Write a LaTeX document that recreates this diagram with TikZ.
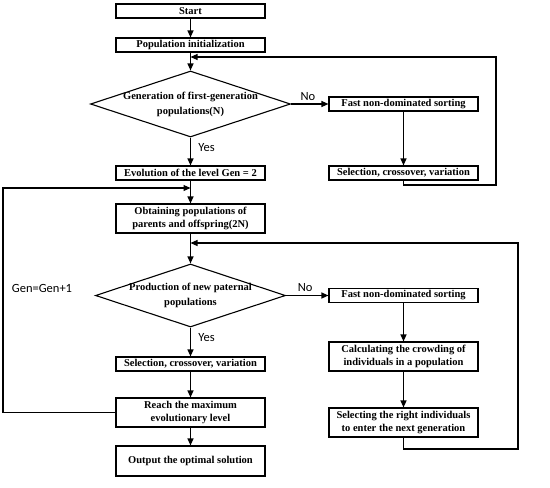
\documentclass[tikz,border=0pt]{standalone}
\usepackage{fontspec}
\setmainfont{Liberation Serif}
\newfontfamily\lblfont{Carlito}
\usetikzlibrary{shapes.geometric,arrows.meta}

\begin{document}
\begin{tikzpicture}[x=1pt,y=-1pt,line width=1.1pt,
   >={Triangle[length=7pt,width=6pt]},
   box/.style={draw,minimum width=149pt,minimum height=14pt,inner sep=1pt,
      align=center,font=\fontsize{10.5}{12.5}\selectfont\bfseries},
   cond/.style={draw,diamond,inner sep=0pt},
   lbl/.style={font=\fontsize{12.5}{14}\selectfont\lblfont}]
   \useasboundingbox (0,0) rectangle (550,488);
   % main column
   \node[box] (start) at (190.5,11) {Start};
   \node[box] (init) at (190.5,45) {Population initialization};
   \node[cond,minimum width=200pt,minimum height=66pt,
      label={[align=center,font=\fontsize{10.5}{15}\selectfont\bfseries]center:Generation of first-generation\\populations(N)}] (d1) at (190.5,104) {};
   \node[box] (evo) at (190.5,173) {Evolution of the level Gen = 2};
   \node[box,minimum height=29pt] (obt) at (190.5,218.5) {Obtaining populations of\\parents and offspring(2N)};
   \node[cond,minimum width=190pt,minimum height=63pt,
      label={[align=center,font=\fontsize{10.5}{15}\selectfont\bfseries]center:Production of new paternal\\populations}] (d2) at (190.5,295.5) {};
   \node[box] (sel2) at (190.5,364) {Selection, crossover, variation};
   \node[box,minimum height=29pt] (reach) at (190.5,412.5) {Reach the maximum\\evolutionary level};
   \node[box,minimum height=30pt] (out) at (190.5,461) {Output the optimal solution};
   % right column
   \node[box] (fast1) at (403.5,104) {Fast non-dominated sorting};
   \node[box] (sel1) at (403.5,173) {Selection, crossover, variation};
   \node[box] (fast2) at (403.5,295.5) {Fast non-dominated sorting};
   \node[box,minimum height=29pt] (calc) at (403.5,356.5) {Calculating the crowding of\\individuals in a population};
   \node[box,minimum height=29pt] (selg) at (403.5,422.5) {Selecting the right individuals\\to enter the next generation};
   \node[lbl] (gen) at (42,288) {Gen=Gen+1};
   % joints of the loops
   \coordinate (j1) at (190.5,57);
   \coordinate (j2) at (190.5,188);
   \coordinate (j3) at (190.5,243);
   % connectors
   \draw[->] (start) -- (init);
   \draw[->] (init) -- (d1);
   \draw[->] (d1.east) -- node[lbl,above,pos=0.45] {No} (fast1.west);
   \draw[->] (fast1) -- (sel1);
   \draw[->] (sel1.south) |- (496,185) |- (j1);
   \draw[->] (d1.south) -- node[lbl,right=4pt,pos=0.35] {Yes} (evo);
   \draw[->] (evo) -- (obt);
   \draw[->] (reach.west) -| (3,188) -- (j2);
   \draw[->] (obt) -- (d2);
   \draw[->] (d2.east) -- node[lbl,above,pos=0.45] {No} (fast2.west);
   \draw[->] (d2.south) -- node[lbl,right=4pt,pos=0.35] {Yes} (sel2);
   \draw[->] (sel2) -- (reach);
   \draw[->] (reach) -- (out);
   \draw[->] (fast2) -- (calc);
   \draw[->] (calc) -- (selg);
   \draw[->] (selg.south) |- (518,449) |- (j3);
\end{tikzpicture}
\end{document}
